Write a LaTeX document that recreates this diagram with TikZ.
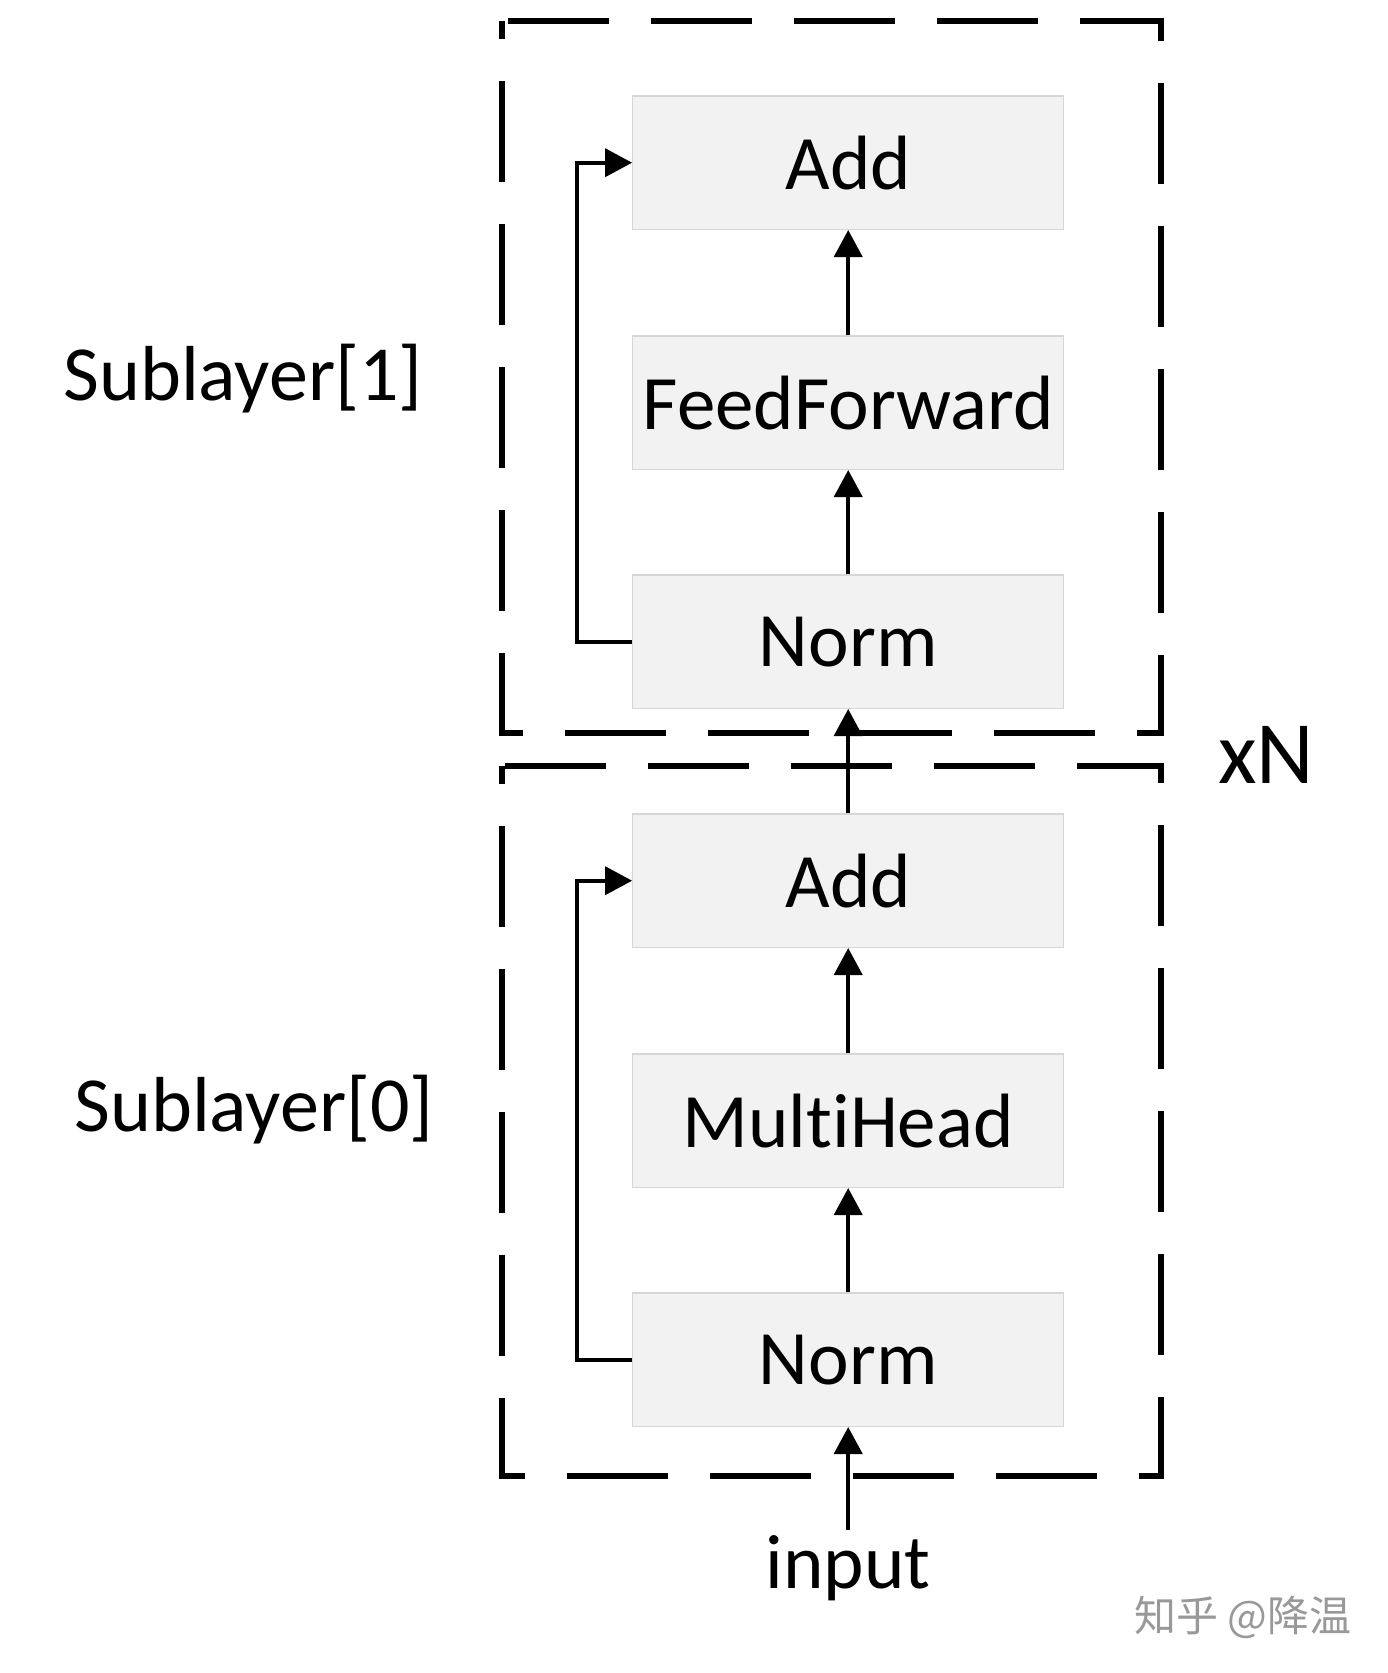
\documentclass[tikz,border=0pt]{standalone}
\usepackage{fontspec}
\setmainfont{Carlito}[Ligatures={NoCommon,NoRare,NoContextual}]
\newfontfamily\cjk{Noto Sans CJK SC}
\usetikzlibrary{arrows.meta}
\definecolor{boxfill}{HTML}{F2F2F2}
\definecolor{boxline}{HTML}{D6D6D6}
\begin{document}
\begin{tikzpicture}[x=1pt,y=-1pt,
  blk/.style={draw=boxline,line width=1.2pt,fill=boxfill,minimum width=431pt,minimum height=133.4pt,inner sep=0pt,font=\fontsize{77}{90}\selectfont},
  lbl/.style={inner sep=0pt,font=\fontsize{78}{90}\selectfont},
  conn/.style={line width=4pt,-{Triangle[length=27pt,width=28pt]}},
  skip/.style={line width=3.8pt,-{Triangle[length=27pt,width=28pt]}},
  dashbox/.style={line width=6pt,line cap=butt,miter limit=10,dash pattern=on 101pt off 42pt,dash phase=83pt}]
\useasboundingbox (0,0) rectangle (1387,1673);
\fill[white] (0,0) rectangle (1387,1673);
% dashed group frames
\draw[dashbox] (501.5,21.3) rectangle (1160.8,732.5);
\draw[dashbox] (501.5,765.5) rectangle (1160.8,1475.5);
% blocks
\node[blk] (add1) at (848.2,162.7) {Add};
\node[blk] (ff) at (848.2,402.7) {FeedForward};
\node[blk] (norm1) at (848.2,641.7) {Norm};
\node[blk] (add0) at (848.2,880.7) {Add};
\node[blk] (mh) at (848.2,1120.7) {Mult\kern0pt iHead};
\node[blk] (norm0) at (848.2,1359.7) {Norm};
% labels
\node[lbl] (sub1) at (243,379) {Sublayer[1]};
\node[lbl] (sub0) at (254,1110) {Sublayer[0]};
\node[inner sep=0pt,font=\fontsize{89}{100}\selectfont] (xn) at (1266,755) {xN};
\node[inner sep=5pt,font=\fontsize{77}{90}\selectfont] (input) at (848.2,1568) {input};
\node[inner sep=0pt,text=black!40,font=\cjk\fontsize{42}{50}\selectfont] (wm) at (1243,1617) {知乎 @降温};
% connectors
\draw[conn] (input.north) -- (norm0.south);
\draw[conn] (norm0.north) -- (mh.south);
\draw[conn] (mh.north) -- (add0.south);
\draw[conn] (add0.north) -- (norm1.south);
\draw[conn] (norm1.north) -- (ff.south);
\draw[conn] (ff.north) -- (add1.south);
\draw[skip] (norm0.west) -| (577.2,880.7) -- (add0.west);
\draw[skip] (norm1.west) -| (577.2,162.7) -- (add1.west);
\end{tikzpicture}
\end{document}
